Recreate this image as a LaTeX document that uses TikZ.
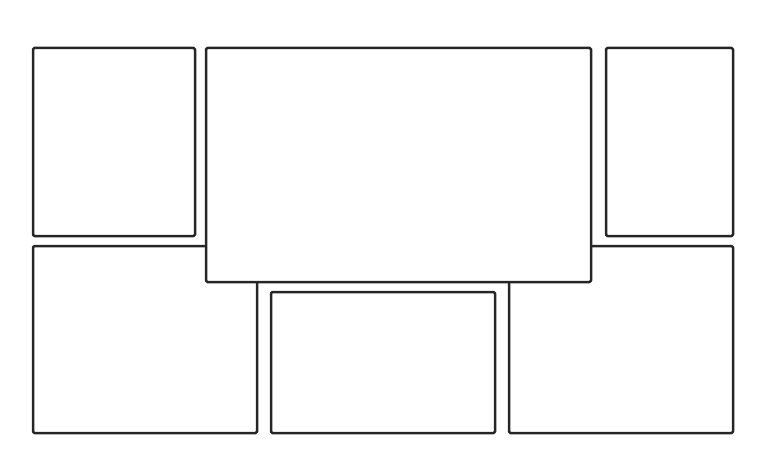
\documentclass[tikz,border=0pt]{standalone}
\begin{document}
\begin{tikzpicture}
		[x=0.3mm,y=-0.3mm,panel/.style={draw=black!85,line width=0.75mm,rounded corners=1.2pt,line join=round}]
		\useasboundingbox (0,0) rectangle (768,466);
		\draw[panel] (33,48) rectangle (195,236);
		\draw[panel] (206,48) rectangle (591,282);
		\draw[panel] (606,48) rectangle (733,236);
		\draw[panel] (206,246) -- (33,246) -- (33,433) -- (257,433) -- (257,282);
		\draw[panel] (271,292) rectangle (495,433);
		\draw[panel] (591,246) -- (733,246) -- (733,433) -- (509,433) -- (509,282);
	\end{tikzpicture}
\end{document}
